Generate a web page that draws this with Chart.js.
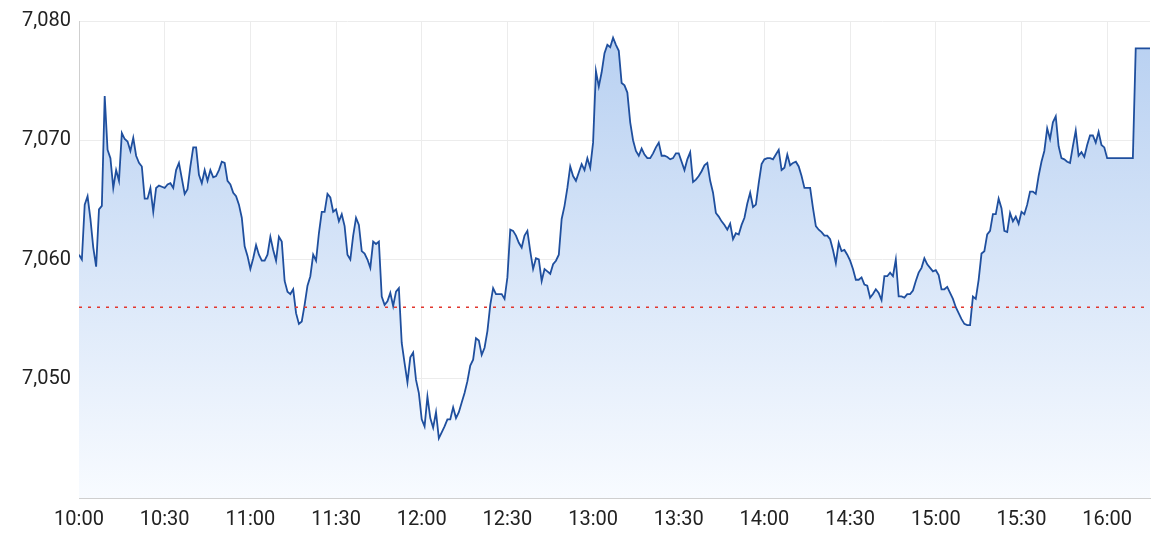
<!DOCTYPE html>
<html>
<head>
<meta charset="utf-8">
<script src="https://cdn.jsdelivr.net/npm/chart.js@4.4.1/dist/chart.umd.min.js"></script>
<style>
  html, body { margin: 0; padding: 0; background: #fff; }
</style>
</head>
<body>
<canvas id="chart" width="1164" height="537"></canvas>
<script>
// one price per minute, minute 0 = 10:00
const prices = [
  7060.4, 7060.0, 7064.6, 7065.3, 7063.4, 7061.0, 7059.4, 7064.2, 7064.5, 7073.7,
  7069.2, 7068.5, 7066.0, 7067.5, 7066.6, 7070.6, 7070.1, 7069.9, 7069.1, 7070.2,
  7068.7, 7068.1, 7067.8, 7065.1, 7065.1, 7066.0, 7064.0, 7066.0, 7066.2, 7066.1,
  7066.0, 7066.3, 7066.4, 7066.0, 7067.5, 7068.1, 7066.8, 7065.5, 7065.9, 7067.8,
  7069.4, 7069.4, 7067.1, 7066.4, 7067.5, 7066.6, 7067.5, 7066.9, 7067.0, 7067.5,
  7068.2, 7068.1, 7066.6, 7066.3, 7065.6, 7065.3, 7064.6, 7063.5, 7061.1, 7060.3,
  7059.2, 7060.1, 7061.2, 7060.4, 7059.9, 7059.9, 7060.4, 7061.9, 7060.8, 7059.9,
  7061.9, 7061.5, 7058.2, 7057.3, 7057.1, 7057.5, 7055.5, 7054.6, 7054.8, 7056.2,
  7057.8, 7058.6, 7060.4, 7059.9, 7062.2, 7064.0, 7064.0, 7065.5, 7065.2, 7064.0,
  7064.2, 7063.2, 7063.8, 7062.8, 7060.4, 7060.0, 7062.0, 7063.5, 7062.9, 7060.7,
  7060.5, 7060.0, 7059.3, 7061.5, 7061.3, 7061.5, 7056.9, 7056.2, 7056.5, 7057.2,
  7056.1, 7057.3, 7057.6, 7053.0, 7051.3, 7049.7, 7051.8, 7052.2, 7049.9, 7048.8,
  7046.6, 7046.0, 7048.5, 7046.7, 7045.9, 7047.2, 7045.0, 7045.5, 7046.0, 7046.6,
  7046.6, 7047.6, 7046.7, 7047.2, 7048.0, 7048.8, 7049.8, 7051.1, 7051.6, 7053.4,
  7053.2, 7052.0, 7052.6, 7054.0, 7056.2, 7057.6, 7057.1, 7057.1, 7057.1, 7056.7,
  7058.5, 7062.5, 7062.4, 7062.0, 7061.4, 7061.0, 7062.0, 7062.4, 7060.7, 7059.2,
  7060.1, 7060.0, 7058.2, 7059.2, 7059.0, 7058.8, 7059.6, 7059.9, 7060.4, 7063.4,
  7064.5, 7066.0, 7067.8, 7067.0, 7066.6, 7067.3, 7068.0, 7067.5, 7068.5, 7067.7,
  7069.8, 7075.8, 7074.5, 7075.7, 7077.3, 7078.0, 7077.8, 7078.6, 7078.0, 7077.5,
  7074.8, 7074.6, 7074.0, 7071.5, 7070.0, 7069.1, 7068.7, 7069.3, 7068.8, 7068.5,
  7068.5, 7068.9, 7069.4, 7069.8, 7068.7, 7068.7, 7068.6, 7068.4, 7068.5, 7068.9,
  7068.9, 7068.2, 7067.5, 7068.4, 7069.0, 7066.5, 7066.7, 7067.0, 7067.4, 7067.9,
  7068.1, 7066.6, 7065.6, 7063.9, 7063.6, 7063.2, 7062.9, 7062.5, 7063.0, 7061.7,
  7062.2, 7062.1, 7062.9, 7063.5, 7064.7, 7065.6, 7064.4, 7064.6, 7066.4, 7068.0,
  7068.4, 7068.5, 7068.5, 7068.4, 7068.8, 7069.2, 7067.5, 7067.7, 7068.8, 7067.9,
  7068.1, 7068.2, 7067.8, 7067.0, 7066.0, 7066.0, 7066.0, 7064.3, 7062.8, 7062.5,
  7062.3, 7062.0, 7062.0, 7061.7, 7060.8, 7059.7, 7061.4, 7060.7, 7060.8, 7060.4,
  7059.9, 7059.2, 7058.3, 7058.3, 7058.5, 7057.9, 7057.8, 7056.8, 7057.1, 7057.5,
  7057.2, 7056.6, 7058.6, 7058.6, 7058.9, 7058.6, 7060.0, 7056.9, 7056.9, 7056.8,
  7057.1, 7057.1, 7057.4, 7058.2, 7058.9, 7059.3, 7060.1, 7059.6, 7059.3, 7059.0,
  7059.1, 7058.7, 7057.5, 7057.5, 7057.7, 7057.2, 7056.7, 7056.0, 7055.5, 7055.0,
  7054.6, 7054.5, 7054.5, 7056.9, 7056.7, 7058.3, 7060.5, 7060.7, 7062.1, 7062.4,
  7063.8, 7063.8, 7065.1, 7064.3, 7062.4, 7062.3, 7063.9, 7063.2, 7063.6, 7063.0,
  7064.0, 7063.8, 7064.6, 7065.7, 7065.7, 7065.5, 7067.0, 7068.2, 7069.1, 7071.0,
  7070.1, 7071.5, 7072.0, 7069.5, 7068.5, 7068.4, 7068.2, 7068.1, 7069.5, 7070.8,
  7068.7, 7069.0, 7068.6, 7069.6, 7070.4, 7070.4, 7069.8, 7070.7, 7069.6, 7069.4,
  7068.5, 7068.5, 7068.5, 7068.5, 7068.5, 7068.5, 7068.5, 7068.5, 7068.5, 7068.5,
  7077.7, 7077.7, 7077.7, 7077.7, 7077.7, 7077.7
];

const previousClose = 7056;
const sessionEnd = 375; // minutes after 10:00

const xTickMinutes = [0, 30, 60, 90, 120, 150, 180, 210, 240, 270, 300, 330, 360];
const xTickLabels = ["10:00", "10:30", "11:00", "11:30", "12:00", "12:30", "13:00",
                     "13:30", "14:00", "14:30", "15:00", "15:30", "16:00"];
const yTicks = [7050, 7060, 7070, 7080];

const labelFont = { family: "Roboto, 'Liberation Sans', sans-serif", size: 20 };

function fillGradient(context) {
    const { ctx, chartArea } = context.chart;
    if (!chartArea) return "rgba(180,206,240,0.6)";
    const g = ctx.createLinearGradient(0, chartArea.top, 0, chartArea.bottom);
    g.addColorStop(0, "#b6cff1");
    g.addColorStop(1, "#f8fbff");
    return g;
}

new Chart(document.getElementById("chart"), {
    type: "line",
    data: {
        datasets: [
            {
                label: "Price",
                data: prices.map((v, i) => ({ x: i, y: v })),
                borderColor: "#1f4f9e",
                borderWidth: 1.8,
                pointRadius: 0,
                tension: 0,
                fill: "start",
                backgroundColor: fillGradient,
                order: 1,
            },
            {
                label: "Previous close",
                data: [{ x: 0, y: previousClose }, { x: sessionEnd, y: previousClose }],
                borderColor: "#e2362e",
                borderWidth: 1.5,
                borderDash: [3, 6],
                pointRadius: 0,
                fill: false,
                order: 0,
            },
        ],
    },
    options: {
        responsive: false,
        animation: false,
        devicePixelRatio: 1,
        layout: { padding: { left: 0, right: 14, top: 21, bottom: 0 } },
        plugins: { legend: { display: false }, tooltip: { enabled: false } },
        scales: {
            x: {
                type: "linear",
                min: 0,
                max: sessionEnd,
                afterBuildTicks: (scale) => {
                    scale.ticks = xTickMinutes.map((m) => ({ value: m }));
                },
                afterFit: (scale) => { scale.height = 39; },
                ticks: {
                    autoSkip: false,
                    maxRotation: 0,
                    padding: 10,
                    color: "#222",
                    font: labelFont,
                    callback: (value) => xTickLabels[xTickMinutes.indexOf(value)],
                },
                grid: { color: "#ececec", drawTicks: false },
                border: { color: "#cfcfcf" },
            },
            y: {
                min: 7040,
                max: 7080,
                afterBuildTicks: (scale) => {
                    scale.ticks = yTicks.map((v) => ({ value: v }));
                },
                afterFit: (scale) => { scale.width = 79; },
                ticks: {
                    padding: 8,
                    color: "#222",
                    font: labelFont,
                    callback: (value) => value.toLocaleString("en"),
                },
                grid: { color: "#ececec", drawTicks: false },
                border: { color: "#cfcfcf" },
            },
        },
    },
});
</script>
</body>
</html>
